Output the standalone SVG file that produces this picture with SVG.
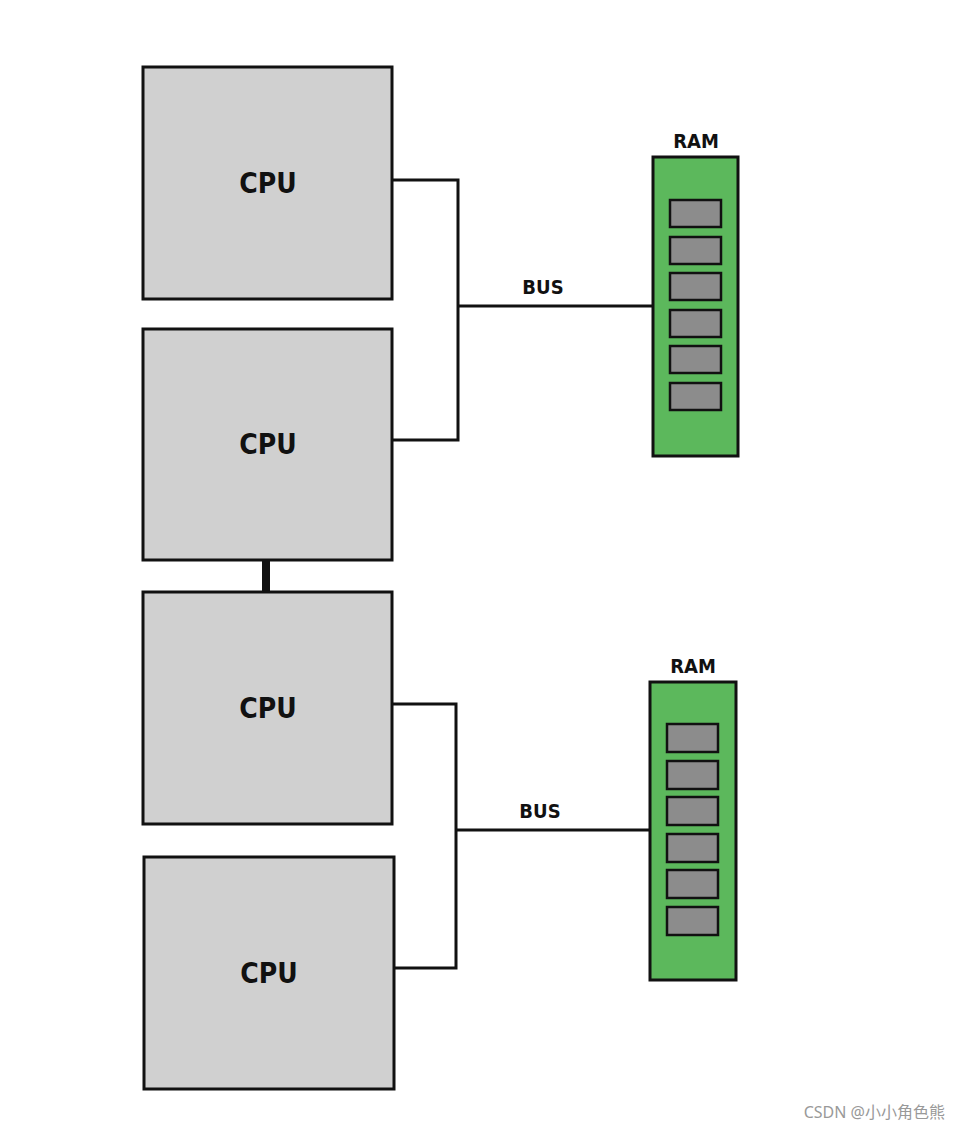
<svg xmlns="http://www.w3.org/2000/svg" width="960" height="1133" viewBox="0 0 960 1133">
<style>
.cpu{fill:#d0d0d0;stroke:#111;stroke-width:3}
.ram{fill:#5cb85c;stroke:#111;stroke-width:3}
.slot{fill:#8c8c8c;stroke:#111;stroke-width:2.5}
.t{font-family:"DejaVu Sans Condensed","DejaVu Sans",sans-serif;font-weight:bold;fill:#111;text-anchor:middle}
.w{stroke:#111;stroke-width:3;fill:none}
</style>
<rect width="960" height="1133" fill="#fff"/>
<g id="cpu1"><rect class="cpu" x="143" y="67" width="249" height="232"/><text class="t" x="268" y="193" font-size="28">CPU</text></g>
<g id="cpu2"><rect class="cpu" x="143" y="329" width="249" height="231"/><text class="t" x="268" y="454" font-size="28">CPU</text></g>
<g id="cpu3"><rect class="cpu" x="143" y="592" width="249" height="232"/><text class="t" x="268" y="718" font-size="28">CPU</text></g>
<g id="cpu4"><rect class="cpu" x="144" y="857" width="250" height="232"/><text class="t" x="269" y="983" font-size="28">CPU</text></g>
<g id="ram1"><text class="t" x="696" y="148" font-size="20">RAM</text><rect class="ram" x="653" y="157" width="85" height="299"/>
<rect class="slot" x="670" y="200" width="51" height="27"/><rect class="slot" x="670" y="237" width="51" height="27"/><rect class="slot" x="670" y="273" width="51" height="27"/><rect class="slot" x="670" y="310" width="51" height="27"/><rect class="slot" x="670" y="346" width="51" height="27"/><rect class="slot" x="670" y="383" width="51" height="27"/></g>
<g id="ram2"><text class="t" x="693" y="673" font-size="20">RAM</text><rect class="ram" x="650" y="682" width="86" height="298"/>
<rect class="slot" x="667" y="724" width="51" height="28"/><rect class="slot" x="667" y="761" width="51" height="28"/><rect class="slot" x="667" y="797" width="51" height="28"/><rect class="slot" x="667" y="834" width="51" height="28"/><rect class="slot" x="667" y="870" width="51" height="28"/><rect class="slot" x="667" y="907" width="51" height="28"/></g>
<g id="connectors">
<polyline class="w" points="393,180 458,180 458,440 393,440"/>
<line class="w" x1="458" y1="306" x2="653" y2="306"/>
<text class="t" x="543" y="294" font-size="20">BUS</text>
<polyline class="w" points="393,704 456,704 456,968 395,968"/>
<line class="w" x1="456" y1="830" x2="650" y2="830"/>
<text class="t" x="540" y="818" font-size="20">BUS</text>
<line x1="266" y1="560" x2="266" y2="592" stroke="#111" stroke-width="8"/>
</g>
<text x="945" y="1118" font-family="'Noto Sans','Noto Sans CJK SC',sans-serif" font-size="16" fill="#999" text-anchor="end">CSDN @小小角色熊</text>
</svg>
